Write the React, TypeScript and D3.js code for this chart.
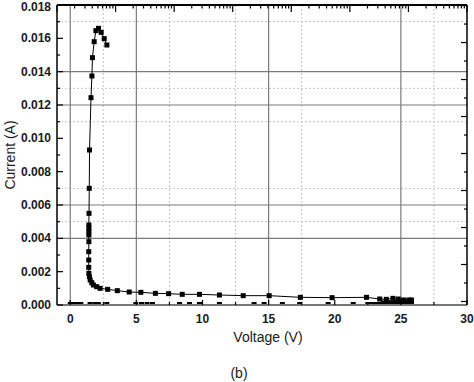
import React from "react";
import * as d3 from "d3";

const xTicks = [0, 5, 10, 15, 20, 25, 30];
const yTicks = [0, 0.002, 0.004, 0.006, 0.008, 0.01, 0.012, 0.014, 0.016, 0.018];
const yMinor = [0.001, 0.003, 0.005, 0.007, 0.009, 0.011, 0.013, 0.015, 0.017];
const xMinor = [2.5, 7.5, 12.5, 17.5, 22.5, 27.5];
const vGridSolid = [0, 5, 15, 25];
const vGridDotted = [2.5, 7.5, 12.5, 17.5, 27.5];
const hGridSolid = [0.014, 0.012, 0.006, 0.004];
const hGridDotted = [0.017, 0.013, 0.011, 0.007, 0.005];

const mainV = [2.77, 2.57, 2.34, 2.14, 1.94, 1.81, 1.68, 1.64, 1.57, 1.46, 1.44, 1.42, 1.41, 1.41, 1.41, 1.41, 1.41, 1.40, 1.40, 1.40, 1.41, 1.45, 1.51, 1.63, 1.75, 2.0, 2.26, 2.83, 3.56, 4.46, 5.34, 6.44, 7.44, 8.47, 9.77, 11.28, 13.08, 15.04, 17.4, 19.8, 22.4, 23.4, 23.9, 24.4, 24.8, 25.2, 25.6, 25.8];
const mainI = [0.0156, 0.01598, 0.01636, 0.0166, 0.01646, 0.0158, 0.01484, 0.01374, 0.01244, 0.0093, 0.007, 0.0055, 0.0048, 0.0046, 0.0044, 0.0042, 0.0038, 0.0032, 0.0027, 0.00226, 0.0019, 0.0017, 0.0015, 0.00134, 0.0012, 0.0011, 0.001, 0.00094, 0.00086, 0.00078, 0.00076, 0.0007, 0.00068, 0.00064, 0.00064, 0.0006, 0.00056, 0.00056, 0.00046, 0.00044, 0.00046, 0.00036, 0.00034, 0.0004, 0.00036, 0.0003, 0.0003, 0.0003];

const baseV = [0, 0.2, 0.4, 0.6, 0.8, 1.5, 1.88, 2.13, 2.76, 4.96, 5.39, 5.81, 6.22, 8.27, 9.02, 9.77, 11.28, 13.9, 14.66, 16.04, 17.35, 19.5, 21.4, 22.5, 22.8, 23.1, 23.4, 23.7, 24.0, 24.3, 24.6, 24.9, 25.2, 25.5, 25.8];
const baseI = [0.00003, 0.00003, 0.00003, 0.00003, 0.00003, 0.00003, 0.00003, 0.00003, 0.00003, 0.00003, 0.00003, 0.00003, 0.00003, 0.00003, 0.00003, 0.00003, 0.00003, 0.00003, 0.00003, 0.00003, 0.00003, 0.00003, 0.00003, 0.00003, 0.00003, 0.00003, 0.00003, 0.00012, 0.00015, 0.00012, 0.00015, 0.00012, 0.00015, 0.00012, 0.00012];

const topMajor = [1, 10, 100, 1000, 10000, 100000, 1000000, 10000000];
const topMinorMult = [2, 3, 4, 5, 6, 7, 8, 9];
const rightTicks = [0, 1, 2, 3, 4, 5, 6, 7, 8, 9, 10, 11, 12, 13, 14, 15, 16];

const L = 57, R = 467, T = 5, B = 305;

export default function App() {
  const x = d3.scaleLinear().domain([-1, 30]).range([L, R]);
  const y = d3.scaleLinear().domain([0, 0.018]).range([B, T]);
  const xTop = d3.scaleLog().domain([1, 1e7]).range([L, R]);
  const yRight = d3.scaleLinear().domain([-0.19, 16.03]).range([B, T]);
  const line = d3.line<number>().x((d, i) => x(mainV[i])).y((d, i) => y(mainI[i]));
  const baseLine = d3.line<number>().x((d, i) => x(baseV[i])).y((d, i) => y(baseI[i]));
  const font = "'Liberation Sans', Arial, sans-serif";
  const ms = 5;
  const topMinor: number[] = [];
  topMajor.slice(0, -1).forEach((m) => topMinorMult.forEach((k) => topMinor.push(m * k)));

  return (
    <svg width={474} height={382} style={{ position: "absolute", left: 0, top: 0, background: "#fff" }} fontFamily={font}>
      <defs>
        <clipPath id="plot">
          <rect x={L} y={T} width={R - L} height={B - T} />
        </clipPath>
      </defs>
      <rect x={0} y={0} width={474} height={382} fill="#fff" />
      {/* grid */}
      {vGridDotted.map((v) => (
        <line key={"vd" + v} x1={x(v)} x2={x(v)} y1={T} y2={B} stroke="#c4c4c4" strokeDasharray="2,2" />
      ))}
      {hGridDotted.map((v) => (
        <line key={"hd" + v} x1={L} x2={R} y1={y(v)} y2={y(v)} stroke="#c4c4c4" strokeDasharray="2,2" />
      ))}
      {vGridSolid.map((v) => (
        <line key={"vs" + v} x1={x(v)} x2={x(v)} y1={T} y2={B} stroke="#7a7a7a" strokeWidth={1.2} />
      ))}
      {hGridSolid.map((v) => (
        <line key={"hs" + v} x1={L} x2={R} y1={y(v)} y2={y(v)} stroke="#7a7a7a" strokeWidth={1.2} />
      ))}
      {/* data */}
      <g clipPath="url(#plot)">
        <path d={baseLine(baseV) || ""} fill="none" stroke="#000" strokeWidth={1} />
        <path d={line(mainV) || ""} fill="none" stroke="#000" strokeWidth={1} />
        {baseV.map((v, i) => (
          <rect key={"b" + i} x={x(v) - ms / 2} y={y(baseI[i]) - ms / 2} width={ms} height={ms} fill="#000" />
        ))}
        {mainV.map((v, i) => (
          <rect key={"m" + i} x={x(v) - ms / 2} y={y(mainI[i]) - ms / 2} width={ms} height={ms} fill="#000" />
        ))}
      </g>
      {/* frame */}
      <line x1={L} x2={R} y1={B} y2={B} stroke="#777" strokeWidth={2} />
      <line x1={L} x2={L} y1={T} y2={B} stroke="#000" strokeWidth={1.5} />
      <line x1={R} x2={R} y1={T} y2={B} stroke="#000" strokeWidth={1.5} />
      <line x1={L} x2={R} y1={T} y2={T} stroke="#000" strokeWidth={2} />
      {/* left ticks */}
      {yTicks.map((v) => (
        <line key={"lt" + v} x1={L} x2={L + 6} y1={y(v)} y2={y(v)} stroke="#000" strokeWidth={1.2} />
      ))}
      {yMinor.map((v) => (
        <line key={"lm" + v} x1={L} x2={L + 3} y1={y(v)} y2={y(v)} stroke="#000" strokeWidth={1.2} />
      ))}
      {/* right ticks */}
      {rightTicks.map((v) => (
        <line key={"rt" + v} x1={R} x2={R - (v % 2 === 0 ? 6 : 3)} y1={yRight(v)} y2={yRight(v)} stroke="#000" strokeWidth={1.2} />
      ))}
      {/* top ticks */}
      {topMajor.map((v) => (
        <line key={"tt" + v} x1={xTop(v)} x2={xTop(v)} y1={T} y2={T + 7} stroke="#000" strokeWidth={1.2} />
      ))}
      {topMinor.map((v) => (
        <line key={"tm" + v} x1={xTop(v)} x2={xTop(v)} y1={T} y2={T + 3.5} stroke="#000" strokeWidth={1.2} />
      ))}
      {/* bottom ticks */}
      {xTicks.map((v) => (
        <line key={"bt" + v} x1={x(v)} x2={x(v)} y1={B} y2={B - 5} stroke="#000" strokeWidth={1.2} />
      ))}
      {xMinor.map((v) => (
        <line key={"bm" + v} x1={x(v)} x2={x(v)} y1={B} y2={B - 3} stroke="#000" strokeWidth={1.2} />
      ))}
      {/* labels */}
      {yTicks.map((v) => (
        <text key={"yl" + v} x={51} y={Math.max(y(v) + 4, 11)} textAnchor="end" fontSize={12} fontWeight="bold" fill="#1a1a1a">
          {v.toFixed(3)}
        </text>
      ))}
      {xTicks.map((v) => (
        <text key={"xl" + v} x={x(v)} y={323} textAnchor="middle" fontSize={12} fontWeight="bold" fill="#1a1a1a">
          {v}
        </text>
      ))}
      <text x={268} y={342} textAnchor="middle" fontSize={14} fill="#1a1a1a">Voltage (V)</text>
      <text transform="translate(15,155) rotate(-90)" textAnchor="middle" fontSize={14} fill="#1a1a1a">Current (A)</text>
      <text x={239} y={378} textAnchor="middle" fontSize={14} fill="#1a1a1a">(b)</text>
    </svg>
  );
}
